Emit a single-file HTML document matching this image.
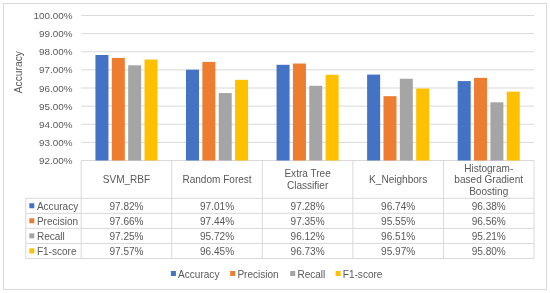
<!DOCTYPE html>
<html><head><meta charset="utf-8"><title>Chart</title>
<style>
html,body{margin:0;padding:0;background:#fff;}
body{width:550px;height:293px;overflow:hidden;}
svg{display:block;}
svg text{font-family:"Liberation Sans",Arial,sans-serif;font-size:10.05px;fill:#595959;}
</style></head><body>
<svg width="550" height="293" viewBox="0 0 550 293">
<rect x="0" y="0" width="550" height="293" fill="#ffffff"/>
<rect x="3.5" y="3.5" width="543" height="286" fill="none" stroke="#d9d9d9" stroke-width="1"/>
<line x1="81.2" y1="15.50" x2="534.0" y2="15.50" stroke="#d9d9d9" stroke-width="1"/>
<text x="72.6" y="19.10" text-anchor="end" style="font-size:9.9px">100.00%</text>
<line x1="81.2" y1="33.62" x2="534.0" y2="33.62" stroke="#d9d9d9" stroke-width="1"/>
<text x="72.6" y="37.23" text-anchor="end" style="font-size:9.9px">99.00%</text>
<line x1="81.2" y1="51.75" x2="534.0" y2="51.75" stroke="#d9d9d9" stroke-width="1"/>
<text x="72.6" y="55.35" text-anchor="end" style="font-size:9.9px">98.00%</text>
<line x1="81.2" y1="69.88" x2="534.0" y2="69.88" stroke="#d9d9d9" stroke-width="1"/>
<text x="72.6" y="73.47" text-anchor="end" style="font-size:9.9px">97.00%</text>
<line x1="81.2" y1="88.00" x2="534.0" y2="88.00" stroke="#d9d9d9" stroke-width="1"/>
<text x="72.6" y="91.60" text-anchor="end" style="font-size:9.9px">96.00%</text>
<line x1="81.2" y1="106.12" x2="534.0" y2="106.12" stroke="#d9d9d9" stroke-width="1"/>
<text x="72.6" y="109.72" text-anchor="end" style="font-size:9.9px">95.00%</text>
<line x1="81.2" y1="124.25" x2="534.0" y2="124.25" stroke="#d9d9d9" stroke-width="1"/>
<text x="72.6" y="127.85" text-anchor="end" style="font-size:9.9px">94.00%</text>
<line x1="81.2" y1="142.38" x2="534.0" y2="142.38" stroke="#d9d9d9" stroke-width="1"/>
<text x="72.6" y="145.97" text-anchor="end" style="font-size:9.9px">93.00%</text>
<line x1="81.2" y1="160.50" x2="534.0" y2="160.50" stroke="#d9d9d9" stroke-width="1"/>
<text x="72.6" y="164.10" text-anchor="end" style="font-size:9.9px">92.00%</text>
<text transform="translate(21.6,72.2) rotate(-90)" text-anchor="middle" style="font-size:10.3px">Accuracy</text>
<rect x="95.45" y="55.01" width="13.00" height="105.49" fill="#4472C4"/>
<rect x="111.81" y="57.91" width="13.00" height="102.59" fill="#ED7D31"/>
<rect x="128.16" y="65.34" width="13.00" height="95.16" fill="#A5A5A5"/>
<rect x="144.50" y="59.54" width="13.00" height="100.96" fill="#FFC000"/>
<rect x="186.01" y="69.69" width="13.00" height="90.81" fill="#4472C4"/>
<rect x="202.36" y="61.90" width="13.00" height="98.60" fill="#ED7D31"/>
<rect x="218.71" y="93.08" width="13.00" height="67.42" fill="#A5A5A5"/>
<rect x="235.06" y="79.84" width="13.00" height="80.66" fill="#FFC000"/>
<rect x="276.57" y="64.80" width="13.00" height="95.70" fill="#4472C4"/>
<rect x="292.93" y="63.53" width="13.00" height="96.97" fill="#ED7D31"/>
<rect x="309.27" y="85.82" width="13.00" height="74.68" fill="#A5A5A5"/>
<rect x="325.62" y="74.77" width="13.00" height="85.73" fill="#FFC000"/>
<rect x="367.13" y="74.59" width="13.00" height="85.91" fill="#4472C4"/>
<rect x="383.49" y="96.16" width="13.00" height="64.34" fill="#ED7D31"/>
<rect x="399.83" y="78.76" width="13.00" height="81.74" fill="#A5A5A5"/>
<rect x="416.19" y="88.54" width="13.00" height="71.96" fill="#FFC000"/>
<rect x="457.69" y="81.11" width="13.00" height="79.39" fill="#4472C4"/>
<rect x="474.05" y="77.85" width="13.00" height="82.65" fill="#ED7D31"/>
<rect x="490.39" y="102.32" width="13.00" height="58.18" fill="#A5A5A5"/>
<rect x="506.75" y="91.63" width="13.00" height="68.87" fill="#FFC000"/>
<line x1="81.20" y1="160.50" x2="81.20" y2="258.50" stroke="#d9d9d9" stroke-width="1"/>
<line x1="171.76" y1="160.50" x2="171.76" y2="258.50" stroke="#d9d9d9" stroke-width="1"/>
<line x1="262.32" y1="160.50" x2="262.32" y2="258.50" stroke="#d9d9d9" stroke-width="1"/>
<line x1="352.88" y1="160.50" x2="352.88" y2="258.50" stroke="#d9d9d9" stroke-width="1"/>
<line x1="443.44" y1="160.50" x2="443.44" y2="258.50" stroke="#d9d9d9" stroke-width="1"/>
<line x1="534.00" y1="160.50" x2="534.00" y2="258.50" stroke="#d9d9d9" stroke-width="1"/>
<line x1="25.80" y1="198.30" x2="25.80" y2="258.50" stroke="#d9d9d9" stroke-width="1"/>
<line x1="25.80" y1="198.30" x2="534.00" y2="198.30" stroke="#d9d9d9" stroke-width="1"/>
<line x1="25.80" y1="213.35" x2="534.00" y2="213.35" stroke="#d9d9d9" stroke-width="1"/>
<line x1="25.80" y1="228.40" x2="534.00" y2="228.40" stroke="#d9d9d9" stroke-width="1"/>
<line x1="25.80" y1="243.45" x2="534.00" y2="243.45" stroke="#d9d9d9" stroke-width="1"/>
<line x1="25.80" y1="258.50" x2="534.00" y2="258.50" stroke="#d9d9d9" stroke-width="1"/>
<text x="126.48" y="183.30" text-anchor="middle">SVM_RBF</text>
<text x="217.04" y="183.30" text-anchor="middle">Random Forest</text>
<text x="307.60" y="177.35" text-anchor="middle">Extra Tree</text>
<text x="307.60" y="189.25" text-anchor="middle">Classifier</text>
<text x="398.16" y="183.30" text-anchor="middle">K_Neighbors</text>
<text x="488.72" y="172.00" text-anchor="middle">Histogram-</text>
<text x="488.72" y="183.30" text-anchor="middle">based Gradient</text>
<text x="488.72" y="194.60" text-anchor="middle">Boosting</text>
<rect x="29.3" y="203.23" width="5" height="5" fill="#4472C4"/>
<text x="36.9" y="209.63">Accuracy</text>
<text x="126.48" y="209.73" text-anchor="middle">97.82%</text>
<text x="217.04" y="209.73" text-anchor="middle">97.01%</text>
<text x="307.60" y="209.73" text-anchor="middle">97.28%</text>
<text x="398.16" y="209.73" text-anchor="middle">96.74%</text>
<text x="488.72" y="209.73" text-anchor="middle">96.38%</text>
<rect x="29.3" y="218.28" width="5" height="5" fill="#ED7D31"/>
<text x="36.9" y="224.68">Precision</text>
<text x="126.48" y="224.78" text-anchor="middle">97.66%</text>
<text x="217.04" y="224.78" text-anchor="middle">97.44%</text>
<text x="307.60" y="224.78" text-anchor="middle">97.35%</text>
<text x="398.16" y="224.78" text-anchor="middle">95.55%</text>
<text x="488.72" y="224.78" text-anchor="middle">96.56%</text>
<rect x="29.3" y="233.33" width="5" height="5" fill="#A5A5A5"/>
<text x="36.9" y="239.73">Recall</text>
<text x="126.48" y="239.83" text-anchor="middle">97.25%</text>
<text x="217.04" y="239.83" text-anchor="middle">95.72%</text>
<text x="307.60" y="239.83" text-anchor="middle">96.12%</text>
<text x="398.16" y="239.83" text-anchor="middle">96.51%</text>
<text x="488.72" y="239.83" text-anchor="middle">95.21%</text>
<rect x="29.3" y="248.38" width="5" height="5" fill="#FFC000"/>
<text x="36.9" y="254.78">F1-score</text>
<text x="126.48" y="254.88" text-anchor="middle">97.57%</text>
<text x="217.04" y="254.88" text-anchor="middle">96.45%</text>
<text x="307.60" y="254.88" text-anchor="middle">96.73%</text>
<text x="398.16" y="254.88" text-anchor="middle">95.97%</text>
<text x="488.72" y="254.88" text-anchor="middle">95.80%</text>
<rect x="170.9" y="271.0" width="5" height="5" fill="#4472C4"/>
<text x="178.1" y="277.5">Accuracy</text>
<rect x="230.2" y="271.0" width="5" height="5" fill="#ED7D31"/>
<text x="237.4" y="277.5">Precision</text>
<rect x="290.2" y="271.0" width="5" height="5" fill="#A5A5A5"/>
<text x="297.4" y="277.5">Recall</text>
<rect x="335.6" y="271.0" width="5" height="5" fill="#FFC000"/>
<text x="342.8" y="277.5">F1-score</text>
</svg>
</body></html>
